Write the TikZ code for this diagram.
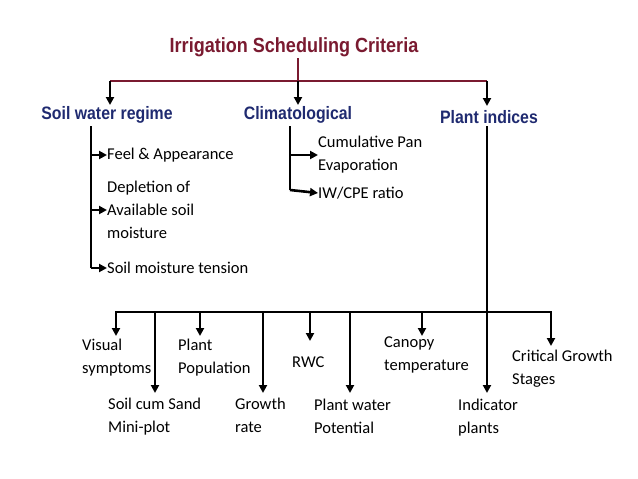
\documentclass[tikz,border=0pt]{standalone}
\usepackage{fontspec}
\setmainfont{Carlito}
\newfontfamily\headfont{Liberation Sans}
\usetikzlibrary{arrows.meta}
\definecolor{maroon}{HTML}{7A1A30}
\definecolor{navy}{HTML}{1F2A70}
\begin{document}
\begin{tikzpicture}[x=1pt,y=-1pt,
  head/.style={font=\headfont\bfseries\fontsize{18}{20}\selectfont, text=navy, inner sep=0pt},
  lab/.style={font=\fontsize{16.5}{23}\selectfont, align=left, anchor=west, inner sep=0pt},
  arr/.style={-{Triangle[length=8pt,width=8pt]}, line width=2.6pt},
  ln/.style={line width=2.6pt}]
\useasboundingbox (0,0) rectangle (638,479);
\node[font=\headfont\bfseries\fontsize{20.5}{22}\selectfont, text=maroon, inner sep=0pt] (title) at (294,47) {\scalebox{0.88}[1]{Irrigation Scheduling Criteria}};
\node[head] (sw) at (107,115) {\scalebox{0.88}[1]{Soil water regime}};
\node[head] (cl) at (298,115) {\scalebox{0.88}[1]{Climatological}};
\node[head] (pi) at (489,117) {\scalebox{0.88}[1]{Plant indices}};
\coordinate (t0) at (298,58); \coordinate (tj) at (298,81);
\coordinate (tl) at (110,81); \coordinate (tr) at (487,81);
\draw[maroon, line width=2.8pt] (t0) -- (tj);
\draw[maroon, line width=2.8pt] (tl) -- (tr);
\draw[arr] (tl) -- (110,105);
\draw[arr] (tj) -- (298,105);
\draw[arr] (tr) -- (487,106);
% soil water
\node[lab] (f1) at (107,155) {Feel \& Appearance};
\node[lab] (f2) at (107,210) {Depletion of\\Available soil\\moisture};
\node[lab] (f3) at (107,268) {Soil moisture tension};
\coordinate (s0) at (91,126);
\draw[ln] (s0) -- (91,268);
\draw[arr] (91,155) -- (f1.west);
\draw[arr] (91,210) -- (f2.west);
\draw[arr] (91,268) -- (f3.west);
% climatological
\node[lab] (c1) at (318,155) {Cumulative Pan\\Evaporation};
\node[lab] (c2) at (318,193) {IW/CPE ratio};
\draw[ln] (290,126) -- (290,190);
\draw[arr] (290,155) -- (c1.west);
\draw[arr] (290,190) -- (c2.west);
% plant indices
\draw[ln] (487,126) -- (487,312);
\draw[ln] (115,312) -- (552,312);
\node[lab] (p1) at (82,358) {Visual\\symptoms};
\node[lab] (p2) at (108,417) {Soil cum Sand\\Mini-plot};
\node[lab] (p3) at (178,358) {Plant\\Population};
\node[lab] (p4) at (235,415) {Growth\\rate};
\node[lab] (p5) at (292,362) {RWC};
\node[lab] (p6) at (314,416) {Plant water\\Potential};
\node[lab] (p7) at (384,355) {Canopy\\temperature};
\node[lab] (p8) at (458,418) {Indicator\\plants};
\node[lab] (p9) at (512,369) {Critical Growth\\Stages};
\draw[arr] (116,312) -- (116,336);
\draw[arr] (155,312) -- (155,393);
\draw[arr] (200,312) -- (200,336);
\draw[arr] (263,312) -- (263,393);
\draw[arr] (310,312) -- (310,341);
\draw[arr] (350,312) -- (350,393);
\draw[arr] (422,312) -- (422,336);
\draw[arr] (487,312) -- (487,393);
\draw[arr] (551,312) -- (551,346);
\end{tikzpicture}
\end{document}
